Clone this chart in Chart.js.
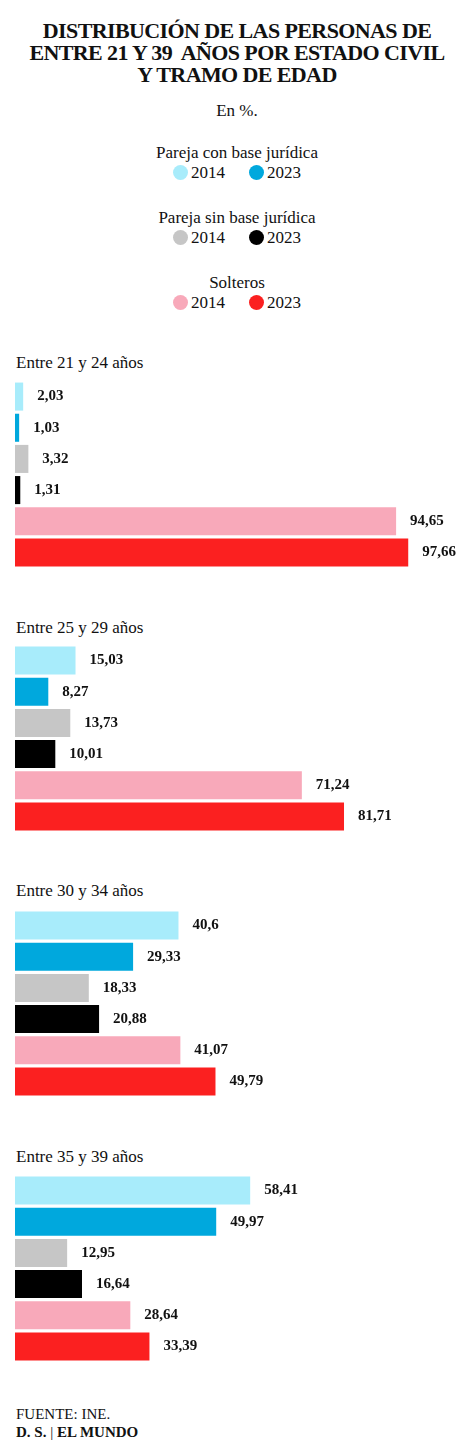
<!DOCTYPE html>
<html><head><meta charset="utf-8">
<script src="https://cdn.jsdelivr.net/npm/chart.js@4"></script>
<style>
body{margin:0;width:474px;height:1448px;background:#fff;font-family:"Liberation Serif","DejaVu Serif",serif;color:#111;position:relative;overflow:hidden}
.t{position:absolute;left:0;width:474px;text-align:center}
h1{margin:0;font-size:22px;line-height:22px;font-weight:bold;letter-spacing:-0.6px}
.sub{font-size:17px}
.dot{display:inline-block;width:15px;height:15px;border-radius:50%;vertical-align:-2px;margin-right:3px}
.leg span.item{margin:0 12px}
.grp{position:absolute;left:16px;font-size:17px}
.cv{position:absolute;left:15px;width:455px;height:187px}
.foot{position:absolute;left:16px;font-size:15px;line-height:18px}
</style></head><body>
<div class="t" style="top:20px"><h1>DISTRIBUCIÓN DE LAS PERSONAS DE<br>ENTRE 21 Y 39&nbsp; AÑOS POR ESTADO CIVIL<br>Y TRAMO DE EDAD</h1></div>
<div class="t sub" style="top:101px">En %.</div>
<div id="legend"></div>
<div id="groups"></div>
<div class="foot" style="top:1405px">FUENTE: INE.<br><b>D. S.</b> | <b>EL MUNDO</b></div>
<script>
const ageGroups = ['Entre 21 y 24 años', 'Entre 25 y 29 años', 'Entre 30 y 34 años', 'Entre 35 y 39 años'];
const seriesNames = ['Pareja con base jurídica', 'Pareja sin base jurídica', 'Solteros'];
const years = ['2014', '2023'];
const conBase2014 = [2.03, 15.03, 40.6, 58.41];
const conBase2023 = [1.03, 8.27, 29.33, 49.97];
const sinBase2014 = [3.32, 13.73, 18.33, 12.95];
const sinBase2023 = [1.31, 10.01, 20.88, 16.64];
const solteros2014 = [94.65, 71.24, 41.07, 28.64];
const solteros2023 = [97.66, 81.71, 49.79, 33.39];
const colors = ['#a8ecfb', '#00a8dd', '#c6c6c6', '#000000', '#f8a9ba', '#fb2020'];

// legend
const legend = document.getElementById('legend');
seriesNames.forEach((name, i) => {
  const d = document.createElement('div');
  d.className = 't sub leg';
  d.style.top = (143 + i * 65) + 'px';
  d.innerHTML = name + '<br>' + years.map((y, j) =>
    `<span class="item"><span class="dot" style="background:${colors[i*2+j]}"></span>${y}</span>`).join('');
  legend.appendChild(d);
});

const fmt = v => String(v).replace('.', ',');
const valueLabels = {
  id: 'valueLabels',
  afterDatasetsDraw(chart) {
    const ctx = chart.ctx;
    ctx.save();
    ctx.font = 'bold 15px "Liberation Serif", serif';
    ctx.fillStyle = '#111';
    ctx.textBaseline = 'middle';
    chart.getDatasetMeta(0).data.forEach((bar, i) => {
      ctx.fillText(fmt(chart.data.datasets[0].data[i]), bar.x + 14, bar.y);
    });
    ctx.restore();
  }
};

const labelTops = [353, 618, 881, 1147];
const chartTops = [381, 645, 910, 1175];
const groups = document.getElementById('groups');
ageGroups.forEach((g, k) => {
  const l = document.createElement('div');
  l.className = 'grp'; l.style.top = labelTops[k] + 'px'; l.textContent = g;
  groups.appendChild(l);
  const box = document.createElement('div');
  box.className = 'cv'; box.style.top = chartTops[k] + 'px';
  const c = document.createElement('canvas');
  box.appendChild(c); groups.appendChild(box);
  const vals = [conBase2014[k], conBase2023[k], sinBase2014[k], sinBase2023[k], solteros2014[k], solteros2023[k]];
  new Chart(c, {
    type: 'bar',
    data: {
      labels: ['a', 'b', 'c', 'd', 'e', 'f'],
      datasets: [{ data: vals, backgroundColor: colors, barPercentage: 0.9, categoryPercentage: 1 }]
    },
    options: {
      indexAxis: 'y', responsive: true, maintainAspectRatio: false, animation: false,
      layout: { padding: 0 },
      plugins: { legend: { display: false }, tooltip: { enabled: false } },
      scales: {
        x: { display: false, min: 0, max: 113 },
        y: { display: false }
      }
    },
    plugins: [valueLabels]
  });
});
</script>
</body></html>
